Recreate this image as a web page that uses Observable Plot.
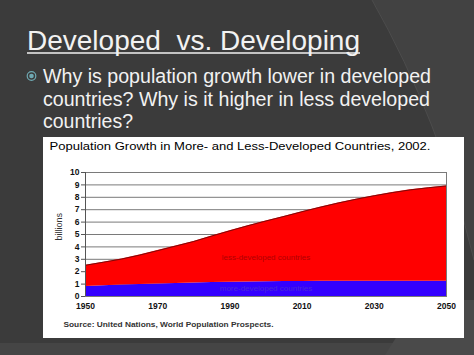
<!DOCTYPE html>
<html>
<head>
<meta charset="utf-8">
<script src="https://cdn.jsdelivr.net/npm/d3@7"></script>
<script src="https://cdn.jsdelivr.net/npm/@observablehq/plot@0.6"></script>
<style>
  html, body { margin: 0; padding: 0; }
  body { width: 474px; height: 355px; overflow: hidden; background: #3b3b3b; position: relative; font-family: "Liberation Sans", Arial, sans-serif; }
  #bg { position: absolute; left: 0; top: 0; }
  #panel { position: absolute; left: 43px; top: 137px; width: 421px; height: 201px; background: #ffffff; }
  #chart { position: absolute; left: 43px; top: 160px; }
  #fg { position: absolute; left: 0; top: 0; pointer-events: none; }
</style>
</head>
<body>
<svg id="bg" width="474" height="355"></svg>
<div id="panel"></div>
<div id="chart"></div>
<svg id="fg" width="474" height="355"></svg>
<script>
// ---- data ----
const slideTitle = "Developed  vs. Developing";
const bulletLines = [
  "Why is population growth lower in developed",
  "countries? Why is it higher in less developed",
  "countries?"
];
const chartTitle = "Population Growth in More- and Less-Developed Countries, 2002.";
const sourceNote = "Source: United Nations, World Population Prospects.";
const yAxisLabel = "billions";
const seriesNames = ["more-developed countries", "less-developed countries"];
const years = [1950,1955,1960,1965,1970,1975,1980,1985,1990,1995,2000,2005,2010,2015,2020,2025,2030,2035,2040,2045,2050];
const moreDeveloped = [0.81,0.86,0.92,0.97,1.01,1.05,1.08,1.12,1.15,1.17,1.19,1.20,1.21,1.22,1.22,1.22,1.22,1.22,1.22,1.22,1.22];
const lessDeveloped = [1.71,1.91,2.10,2.37,2.69,3.02,3.36,3.76,4.15,4.54,4.90,5.26,5.63,5.98,6.32,6.63,6.91,7.16,7.38,7.55,7.70];
const xTicks = [1950,1970,1990,2010,2030,2050];
const yTicks = [0,1,2,3,4,5,6,7,8,9,10];

// ---- slide background ----
const bg = d3.select("#bg");
bg.append("path").attr("d", "M372,0 Q440,120 474,260 L474,0 Z").attr("fill", "#424242");
bg.append("path").attr("d", "M372,0 Q440,120 474,260").attr("fill", "none").attr("stroke", "#4c4c4c").attr("stroke-width", 1);
bg.append("path").attr("d", "M0,343 L474,343 L474,355 L0,355 Z").attr("fill", "#454545");
bg.append("path").attr("d", "M385,355 L420,300 L474,300 L474,355 Z").attr("fill", "#4a4a4a");

// ---- chart ----
const rows = [];
years.forEach((yr, i) => {
  rows.push({year: yr, group: seriesNames[0], value: moreDeveloped[i]});
  rows.push({year: yr, group: seriesNames[1], value: lessDeveloped[i]});
});
const totals = years.map((yr, i) => ({year: yr, total: d3.sum([moreDeveloped[i], lessDeveloped[i]])}));

const chart = Plot.plot({
  width: 421,
  height: 155,
  marginLeft: 42,
  marginRight: 18,
  marginTop: 12,
  marginBottom: 19,
  style: {background: "transparent", fontFamily: "'Liberation Sans', Arial, sans-serif", color: "#111"},
  x: {domain: [1950, 2050], ticks: xTicks, tickFormat: d => String(d)},
  y: {domain: [0, 10], ticks: yTicks},
  color: {domain: seriesNames, range: ["#3300ff", "#ff0000"]},
  marks: [
    Plot.gridY(yTicks, {stroke: "#7a7a7a", strokeOpacity: 1, strokeWidth: 1}),
    Plot.areaY(rows, {x: "year", y: "value", fill: "group", z: "group", order: seriesNames, curve: "linear"}),
    Plot.lineY(totals, {x: "year", y: "total", stroke: "#5a0a0a", strokeWidth: 0.8}),
    Plot.frame({stroke: "#7a7a7a", strokeWidth: 1}),
    Plot.ruleX([1950], {stroke: "#555"}),
    Plot.axisY({ticks: yTicks, tickSize: 4, tickPadding: 2, label: null, fontWeight: "bold", fontSize: 8.5, stroke: "#555"}),
    Plot.axisX({ticks: xTicks, tickSize: 0, tickPadding: 6, label: null, fontWeight: "bold", fontSize: 8.5, tickFormat: d => String(d)}),
    Plot.text([yAxisLabel], {frameAnchor: "left", dx: -26, dy: 6, rotate: -90, fontSize: 9, fill: "#333"}),
    Plot.text([seriesNames[1]], {frameAnchor: "bottom", dy: -37, fontSize: 8, fill: "#b00000"}),
    Plot.text([seriesNames[0]], {frameAnchor: "bottom", dy: -6, fontSize: 8, fill: "#4a2ad8"})
  ]
});
document.getElementById("chart").appendChild(chart);

// ---- slide text ----
const fg = d3.select("#fg");
fg.append("text").attr("x", 27).attr("y", 50).attr("font-size", 28)
  .attr("fill", "#f2f2f2").attr("textLength", 333).attr("lengthAdjust", "spacingAndGlyphs")
  .attr("xml:space", "preserve").style("white-space", "pre").text(slideTitle);
fg.append("line").attr("x1", 27).attr("x2", 360).attr("y1", 53).attr("y2", 53)
  .attr("stroke", "#f2f2f2").attr("stroke-width", 1.5);

fg.append("circle").attr("cx", 31.5).attr("cy", 76).attr("r", 4.3).attr("fill", "none").attr("stroke", "#6fa9b3").attr("stroke-width", 1.2);
fg.append("circle").attr("cx", 31.5).attr("cy", 76).attr("r", 2.3).attr("fill", "#6fa9b3");

const lineBase = [82.7, 106, 128.3];
const lineWidths = [388, 387, 90];
bulletLines.forEach((t, i) => {
  fg.append("text").attr("x", 43).attr("y", lineBase[i]).attr("font-size", 19.6)
    .attr("fill", "#f2f2f2").attr("textLength", lineWidths[i]).attr("lengthAdjust", "spacingAndGlyphs").text(t);
});

fg.append("text").attr("x", 49.5).attr("y", 149.7).attr("font-size", 10.3)
  .attr("fill", "#000").attr("textLength", 381).attr("lengthAdjust", "spacingAndGlyphs").text(chartTitle);
fg.append("text").attr("x", 63.5).attr("y", 327.3).attr("font-size", 7.8).attr("font-weight", "bold")
  .attr("fill", "#333").attr("textLength", 210).attr("lengthAdjust", "spacingAndGlyphs").text(sourceNote);
</script>
</body>
</html>
